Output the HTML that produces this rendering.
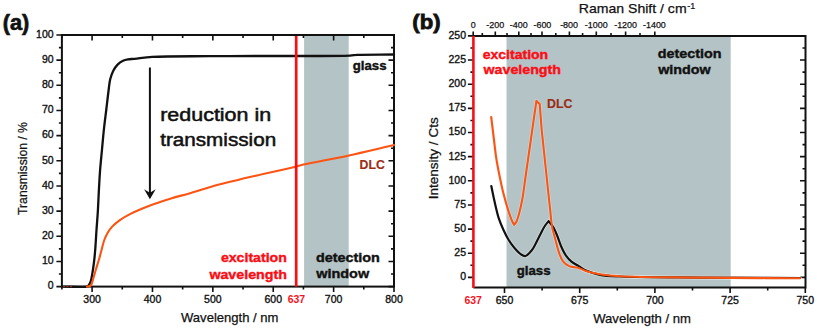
<!DOCTYPE html>
<html><head><meta charset="utf-8"><style>
html,body{margin:0;padding:0;background:#fff;}
svg{display:block;}
</style></head><body>
<svg width="817" height="328" viewBox="0 0 817 328">
<rect x="304.1" y="35" width="44.6" height="251.6" fill="#b4c3c5"/>
<path d="M61.9 286.6v3 M61.9 35v3 M92.09 286.6v5.5 M92.09 35v5.5 M122.28 286.6v3 M122.28 35v3 M152.47 286.6v5.5 M152.47 35v5.5 M182.66 286.6v3 M182.66 35v3 M212.85 286.6v5.5 M212.85 35v5.5 M243.05 286.6v3 M243.05 35v3 M273.24 286.6v5.5 M273.24 35v5.5 M303.43 286.6v3 M303.43 35v3 M333.62 286.6v5.5 M333.62 35v5.5 M363.81 286.6v3 M363.81 35v3 M394 286.6v5.5 M394 35v5.5 M61.9 286.6h-5.5 M394 286.6h-5.5 M61.9 274.02h-3 M394 274.02h-3 M61.9 261.44h-5.5 M394 261.44h-5.5 M61.9 248.86h-3 M394 248.86h-3 M61.9 236.28h-5.5 M394 236.28h-5.5 M61.9 223.7h-3 M394 223.7h-3 M61.9 211.12h-5.5 M394 211.12h-5.5 M61.9 198.54h-3 M394 198.54h-3 M61.9 185.96h-5.5 M394 185.96h-5.5 M61.9 173.38h-3 M394 173.38h-3 M61.9 160.8h-5.5 M394 160.8h-5.5 M61.9 148.22h-3 M394 148.22h-3 M61.9 135.64h-5.5 M394 135.64h-5.5 M61.9 123.06h-3 M394 123.06h-3 M61.9 110.48h-5.5 M394 110.48h-5.5 M61.9 97.9h-3 M394 97.9h-3 M61.9 85.32h-5.5 M394 85.32h-5.5 M61.9 72.74h-3 M394 72.74h-3 M61.9 60.16h-5.5 M394 60.16h-5.5 M61.9 47.58h-3 M394 47.58h-3 M61.9 35h-5.5 M394 35h-5.5" stroke="#111" stroke-width="1.6" fill="none"/>
<rect x="61.9" y="35" width="332.1" height="251.6" stroke="#111" stroke-width="2" fill="none"/>
<path d="M62 286.6 C70.27 286.6 83.56 287.32 86.8 286.6 C87.64 286.41 87.81 286.36 88.3 285.9 C89.17 285.07 90.16 282.96 90.8 281.2 C91.53 279.19 91.74 277 92.2 274.4 C92.81 270.93 93.5 266.27 94 262.2 C94.5 258.14 94.83 254.57 95.2 250 C95.68 244.16 96.05 236.49 96.5 230 C96.92 223.84 97.41 218.3 97.8 212 C98.23 205.04 98.51 197.16 98.9 190 C99.28 183.17 99.59 176.7 100.1 170 C100.62 163.2 101.36 156.29 102 149.5 C102.63 142.79 103.18 136.16 103.9 129.5 C104.62 122.83 105.5 116.17 106.3 109.5 C107.1 102.83 107.96 95.05 108.7 89.5 C109.23 85.53 109.39 82.52 110.2 79.3 C110.96 76.27 111.98 73.24 113.3 70.7 C114.5 68.4 115.92 66.3 117.6 64.6 C119.18 63 121.16 61.59 123 60.7 C124.61 59.92 126.12 59.62 127.9 59.3 C129.94 58.94 131.84 59.05 134.6 58.8 C139.1 58.39 144.7 57.35 152.3 56.9 C165.93 56.09 191.11 56.35 209.6 56.2 C226.94 56.06 240.78 56.08 260 56 C285.68 55.89 336.92 56.28 350 55.6 C353.66 55.41 353.74 55.08 357 54.9 C364.47 54.49 381.67 54.63 394 54.5" stroke="#111" stroke-width="2.3" fill="none" stroke-linejoin="round" stroke-linecap="round"/>
<path d="M63 286.6H73" stroke="#b03a22" stroke-width="1.2" stroke-dasharray="2 1.5" fill="none" opacity="0.8"/>
<path d="M87 286.6 C87.5 286.5 87.95 286.47 88.5 286.3 C89.24 286.07 90.3 285.97 91 285.2 C92.17 283.92 92.61 280.51 93.4 278 C94.25 275.29 95.02 272.42 95.9 269.5 C96.84 266.37 97.94 263.13 98.9 259.8 C99.91 256.31 100.86 252.43 101.8 249 C102.66 245.86 103.24 242.85 104.3 240 C105.32 237.26 106.6 234.52 108 232.2 C109.26 230.11 110.49 228.43 112.2 226.6 C114.21 224.45 116.71 222.29 119.5 220.3 C122.7 218.02 126.3 216.02 130.5 213.9 C135.76 211.25 142.35 208.48 148.8 206 C155.79 203.32 163.93 200.68 171 198.5 C177.37 196.54 182.93 195.26 189.3 193.4 C196.31 191.36 202.86 189.04 211.3 186.7 C222.56 183.58 237.39 180.04 251 176.8 C265.32 173.4 286.3 168.98 295.2 166.8 C299.07 165.85 299.62 165.5 303.5 164.6 C312.42 162.53 332.98 158.91 347.9 155.7 C363.15 152.42 378.63 148.63 394 145.1" stroke="#fc5412" stroke-width="2.1" fill="none" stroke-linejoin="round" stroke-linecap="round"/>
<line x1="296.2" y1="36" x2="296.2" y2="286.6" stroke="#fb0d16" stroke-width="2.7"/>
<line x1="149.9" y1="67.5" x2="149.9" y2="193" stroke="#111" stroke-width="2"/>
<path d="M144.1 189.2 L149.9 192.8 L155.7 189.2 L149.9 199.2 Z" fill="#111"/>
<g font-family='"Liberation Sans", sans-serif' font-size="10.5" fill="#111" stroke="#111" stroke-width="0.35"><text x="53.6" y="289.4" text-anchor="end">0</text><text x="53.6" y="264.24" text-anchor="end">10</text><text x="53.6" y="239.08" text-anchor="end">20</text><text x="53.6" y="213.92" text-anchor="end">30</text><text x="53.6" y="188.76" text-anchor="end">40</text><text x="53.6" y="163.6" text-anchor="end">50</text><text x="53.6" y="138.44" text-anchor="end">60</text><text x="53.6" y="113.28" text-anchor="end">70</text><text x="53.6" y="88.12" text-anchor="end">80</text><text x="53.6" y="62.96" text-anchor="end">90</text><text x="53.6" y="37.8" text-anchor="end">100</text><text x="92.09" y="302.6" text-anchor="middle">300</text><text x="152.47" y="302.6" text-anchor="middle">400</text><text x="212.85" y="302.6" text-anchor="middle">500</text><text x="273.24" y="302.6" text-anchor="middle">600</text><text x="333.62" y="302.6" text-anchor="middle">700</text><text x="394" y="302.6" text-anchor="middle">800</text></g>
<text x="296.4" y="302.6" text-anchor="middle" font-family='"Liberation Sans",sans-serif' font-weight="bold" font-size="10.5" fill="#f5141e">637</text>
<text x="181" y="321.6" font-family='"Liberation Sans", sans-serif' font-size="13" fill="#111" stroke="#111" stroke-width="0.25" textLength="97.5" lengthAdjust="spacingAndGlyphs">Wavelength / nm</text>
<text transform="translate(26.9 214.9) rotate(-90)" font-family='"Liberation Sans", sans-serif' font-size="13.6" fill="#111" stroke="#111" stroke-width="0.25" textLength="92.8" lengthAdjust="spacingAndGlyphs">Transmission / %</text>
<text x="160.2" y="120.7" font-family='"Liberation Sans", sans-serif' font-size="17.6" fill="#111" stroke="#111" stroke-width="0.5" textLength="111" lengthAdjust="spacingAndGlyphs">reduction in</text>
<text x="160.2" y="146.3" font-family='"Liberation Sans", sans-serif' font-size="17.6" fill="#111" stroke="#111" stroke-width="0.5" textLength="116" lengthAdjust="spacingAndGlyphs">transmission</text>
<text x="220.9" y="262.2" font-family='"Liberation Sans", sans-serif' font-weight="bold" font-size="13.1" fill="#fb0d16" stroke="#fb0d16" stroke-width="0.4" textLength="66" lengthAdjust="spacingAndGlyphs">excitation</text>
<text x="209.4" y="278.6" font-family='"Liberation Sans", sans-serif' font-weight="bold" font-size="13.1" fill="#fb0d16" stroke="#fb0d16" stroke-width="0.4" textLength="77.5" lengthAdjust="spacingAndGlyphs">wavelength</text>
<text x="315.9" y="262.1" font-family='"Liberation Sans", sans-serif' font-weight="bold" font-size="13.1" fill="#111" stroke="#111" stroke-width="0.4" textLength="64" lengthAdjust="spacingAndGlyphs">detection</text>
<text x="316.2" y="278.1" font-family='"Liberation Sans", sans-serif' font-weight="bold" font-size="13.1" fill="#111" stroke="#111" stroke-width="0.4" textLength="53" lengthAdjust="spacingAndGlyphs">window</text>
<text x="352.7" y="69.7" font-family='"Liberation Sans", sans-serif' font-weight="bold" font-size="12.3" fill="#111" stroke="#111" stroke-width="0.4" textLength="33.8" lengthAdjust="spacingAndGlyphs">glass</text>
<text x="359.6" y="169.1" font-family='"Liberation Sans", sans-serif' font-weight="bold" font-size="12.6" fill="#9a2c16" stroke="#9a2c16" stroke-width="0.15" textLength="25.2" lengthAdjust="spacingAndGlyphs">DLC</text>
<text x="2.8" y="29.5" font-family='"Liberation Sans", sans-serif' font-weight="bold" font-size="21.5" fill="#111" stroke="#111" stroke-width="0.7" textLength="26.5" lengthAdjust="spacingAndGlyphs">(a)</text>
<rect x="506.5" y="35.9" width="224.2" height="251.5" fill="#b4c3c5"/>
<path d="M504.5 287.4v5.5 M542.1 287.4v3 M579.7 287.4v5.5 M617.3 287.4v3 M654.9 287.4v5.5 M692.5 287.4v3 M730.1 287.4v5.5 M767.7 287.4v3 M805.3 287.4v5.5 M473.4 277.4h-5.5 M805.5 277.4h-5.5 M473.4 265.32h-3 M805.5 265.32h-3 M473.4 253.25h-5.5 M805.5 253.25h-5.5 M473.4 241.17h-3 M805.5 241.17h-3 M473.4 229.1h-5.5 M805.5 229.1h-5.5 M473.4 217.02h-3 M805.5 217.02h-3 M473.4 204.95h-5.5 M805.5 204.95h-5.5 M473.4 192.88h-3 M805.5 192.88h-3 M473.4 180.8h-5.5 M805.5 180.8h-5.5 M473.4 168.72h-3 M805.5 168.72h-3 M473.4 156.65h-5.5 M805.5 156.65h-5.5 M473.4 144.58h-3 M805.5 144.58h-3 M473.4 132.5h-5.5 M805.5 132.5h-5.5 M473.4 120.43h-3 M805.5 120.43h-3 M473.4 108.35h-5.5 M805.5 108.35h-5.5 M473.4 96.28h-3 M805.5 96.28h-3 M473.4 84.2h-5.5 M805.5 84.2h-5.5 M473.4 72.12h-3 M805.5 72.12h-3 M473.4 60.05h-5.5 M805.5 60.05h-5.5 M473.4 47.97h-3 M805.5 47.97h-3 M473.4 35.9h-5.5 M805.5 35.9h-5.5 M473.2 35.9v-4.5 M495.3 35.9v-4.5 M518.8 35.9v-4.5 M542 35.9v-4.5 M569.4 35.9v-4.5 M596.3 35.9v-4.5 M625.6 35.9v-4.5 M654.8 35.9v-4.5 M482.3 35.9v-3 M507 35.9v-3 M531 35.9v-3 M555.8 35.9v-3 M582.6 35.9v-3 M611 35.9v-3 M640 35.9v-3" stroke="#111" stroke-width="1.6" fill="none"/>
<path d="M473.4 35.9H805.5V287.4H473.4" stroke="#111" stroke-width="2" fill="none"/>
<path d="M491.3 186 C492.37 191.1 493.3 196.07 494.5 201.3 C495.78 206.85 497.14 213.3 498.8 218.4 C500.2 222.69 501.83 226.36 503.5 230 C505.04 233.36 506.55 236.49 508.4 239.5 C510.23 242.48 512.36 245.48 514.5 248 C516.44 250.29 518.53 252.75 520.6 254.1 C522.21 255.15 523.87 256.3 525.5 256 C527.54 255.63 529.97 252.46 531.6 250.5 C533.05 248.76 533.81 247.14 535 245 C536.57 242.19 538.33 238.23 540 235 C541.6 231.91 543.19 228.49 544.8 226 C546.06 224.06 547.33 222.73 548.6 221.1 M548.6 221.1 C550.23 223.23 552.07 225.09 553.5 227.5 C555.08 230.16 556.26 233.44 557.5 236.5 C558.76 239.6 559.61 242.87 561 246 C562.43 249.24 564.09 252.88 566 255.6 C567.65 257.96 569.4 259.87 571.5 261.6 C573.65 263.38 576.36 264.61 578.8 266.1 C581.23 267.58 583.19 269.19 586.1 270.5 C589.87 272.2 594.73 273.8 599.8 274.8 C605.82 275.98 611.03 276.06 620 276.5 C637.83 277.37 671.85 277.35 700 277.6 C731.48 277.88 766.67 277.87 800 278" stroke="#fff" stroke-width="3.6" opacity="0.5" fill="none" stroke-linejoin="round" stroke-linecap="round"/>
<path d="M491.2 117 C492.13 124.67 493.11 132.77 494 140 C494.8 146.45 495.35 152.21 496.3 158.3 C497.25 164.41 498.51 170.71 499.7 176.6 C500.82 182.12 501.87 187.29 503.2 192.6 C504.54 197.95 506.16 203.71 507.7 208.6 C509.03 212.83 510.53 217.35 511.8 220.3 C512.61 222.19 513.33 223.3 514.1 224.8 M514.1 224.8 C514.9 223.7 515.78 222.89 516.5 221.5 C517.5 219.56 518.18 216.94 519 214 C520.13 209.94 521.32 204.64 522.3 199.3 C523.46 192.99 524.3 185.43 525.3 178.5 M525.3 178.5 C529 152.63 532.7 126.77 536.4 100.9 M536.4 100.9 C537.5 101.97 538.6 103.03 539.7 104.1 M539.7 104.1 C540.37 112.73 541.03 121.37 541.7 130 M541.7 130 C544.17 153.33 546.63 176.67 549.1 200 M549.1 200 C549.53 204 549.94 207.82 550.4 212 C550.9 216.58 551.14 221.7 552 226.4 C552.85 231.03 554.32 235.58 555.5 240 C556.63 244.23 557.54 248.66 558.9 252.4 C560.09 255.67 561.14 258.96 563 261.3 C564.67 263.4 566.76 265 569.2 266.1 C571.93 267.33 576 267 578.8 267.9 C581.15 268.66 582.82 270.01 585 270.8 C587.28 271.62 589.76 272.14 592.2 272.7 C594.69 273.27 596.65 273.73 599.8 274.2 C604.91 274.97 611.02 275.76 620 276.3 C637.82 277.37 671.85 277.27 700 277.6 C731.47 277.97 766.67 278.07 800 278.3" stroke="#e8f4f4" stroke-width="3.4" opacity="0.5" fill="none" stroke-linejoin="round" stroke-linecap="round"/>
<path d="M491.3 186 C492.37 191.1 493.3 196.07 494.5 201.3 C495.78 206.85 497.14 213.3 498.8 218.4 C500.2 222.69 501.83 226.36 503.5 230 C505.04 233.36 506.55 236.49 508.4 239.5 C510.23 242.48 512.36 245.48 514.5 248 C516.44 250.29 518.53 252.75 520.6 254.1 C522.21 255.15 523.87 256.3 525.5 256 C527.54 255.63 529.97 252.46 531.6 250.5 C533.05 248.76 533.81 247.14 535 245 C536.57 242.19 538.33 238.23 540 235 C541.6 231.91 543.19 228.49 544.8 226 C546.06 224.06 547.33 222.73 548.6 221.1 M548.6 221.1 C550.23 223.23 552.07 225.09 553.5 227.5 C555.08 230.16 556.26 233.44 557.5 236.5 C558.76 239.6 559.61 242.87 561 246 C562.43 249.24 564.09 252.88 566 255.6 C567.65 257.96 569.4 259.87 571.5 261.6 C573.65 263.38 576.36 264.61 578.8 266.1 C581.23 267.58 583.19 269.19 586.1 270.5 C589.87 272.2 594.73 273.8 599.8 274.8 C605.82 275.98 611.03 276.06 620 276.5 C637.83 277.37 671.85 277.35 700 277.6 C731.48 277.88 766.67 277.87 800 278" stroke="#111" stroke-width="2.2" fill="none" stroke-linejoin="round" stroke-linecap="round"/>
<path d="M491.2 117 C492.13 124.67 493.11 132.77 494 140 C494.8 146.45 495.35 152.21 496.3 158.3 C497.25 164.41 498.51 170.71 499.7 176.6 C500.82 182.12 501.87 187.29 503.2 192.6 C504.54 197.95 506.16 203.71 507.7 208.6 C509.03 212.83 510.53 217.35 511.8 220.3 C512.61 222.19 513.33 223.3 514.1 224.8 M514.1 224.8 C514.9 223.7 515.78 222.89 516.5 221.5 C517.5 219.56 518.18 216.94 519 214 C520.13 209.94 521.32 204.64 522.3 199.3 C523.46 192.99 524.3 185.43 525.3 178.5 M525.3 178.5 C529 152.63 532.7 126.77 536.4 100.9 M536.4 100.9 C537.5 101.97 538.6 103.03 539.7 104.1 M539.7 104.1 C540.37 112.73 541.03 121.37 541.7 130 M541.7 130 C544.17 153.33 546.63 176.67 549.1 200 M549.1 200 C549.53 204 549.94 207.82 550.4 212 C550.9 216.58 551.14 221.7 552 226.4 C552.85 231.03 554.32 235.58 555.5 240 C556.63 244.23 557.54 248.66 558.9 252.4 C560.09 255.67 561.14 258.96 563 261.3 C564.67 263.4 566.76 265 569.2 266.1 C571.93 267.33 576 267 578.8 267.9 C581.15 268.66 582.82 270.01 585 270.8 C587.28 271.62 589.76 272.14 592.2 272.7 C594.69 273.27 596.65 273.73 599.8 274.2 C604.91 274.97 611.02 275.76 620 276.3 C637.82 277.37 671.85 277.27 700 277.6 C731.47 277.97 766.67 278.07 800 278.3" stroke="#fc5412" stroke-width="2.1" fill="none" stroke-linejoin="round" stroke-linecap="round"/>
<line x1="473.4" y1="35.9" x2="473.4" y2="287.9" stroke="#fb0d16" stroke-width="2.6"/>
<g font-family='"Liberation Sans", sans-serif' font-size="10.5" fill="#111" stroke="#111" stroke-width="0.35"><text x="466" y="280.3" text-anchor="end">0</text><text x="466" y="256.15" text-anchor="end">25</text><text x="466" y="232" text-anchor="end">50</text><text x="466" y="207.85" text-anchor="end">75</text><text x="466" y="183.7" text-anchor="end">100</text><text x="466" y="159.55" text-anchor="end">125</text><text x="466" y="135.4" text-anchor="end">150</text><text x="466" y="111.25" text-anchor="end">175</text><text x="466" y="87.1" text-anchor="end">200</text><text x="466" y="62.95" text-anchor="end">225</text><text x="466" y="38.8" text-anchor="end">250</text><text x="504.5" y="303.8" text-anchor="middle">650</text><text x="579.7" y="303.8" text-anchor="middle">675</text><text x="654.9" y="303.8" text-anchor="middle">700</text><text x="730.1" y="303.8" text-anchor="middle">725</text><text x="805.3" y="303.8" text-anchor="middle">750</text></g>
<text x="473.2" y="303.8" text-anchor="middle" font-family='"Liberation Sans", sans-serif' font-weight="bold" font-size="10.5" fill="#f5141e">637</text>
<g font-family='"Liberation Sans", sans-serif' font-size="9.6" fill="#111" stroke="#111" stroke-width="0.25"><text x="470.71" y="27.9" textLength="4.97" lengthAdjust="spacingAndGlyphs">0</text><text x="486.35" y="27.9" textLength="17.9" lengthAdjust="spacingAndGlyphs">-200</text><text x="509.85" y="27.9" textLength="17.9" lengthAdjust="spacingAndGlyphs">-400</text><text x="533.45" y="27.9" textLength="17.9" lengthAdjust="spacingAndGlyphs">-600</text><text x="560.15" y="27.9" textLength="17.9" lengthAdjust="spacingAndGlyphs">-800</text><text x="584.86" y="27.9" textLength="22.88" lengthAdjust="spacingAndGlyphs">-1000</text><text x="614.16" y="27.9" textLength="22.88" lengthAdjust="spacingAndGlyphs">-1200</text><text x="642.96" y="27.9" textLength="22.88" lengthAdjust="spacingAndGlyphs">-1400</text></g>
<text x="578.8" y="13.4" font-family='"Liberation Sans", sans-serif' font-size="13" fill="#111" stroke="#111" stroke-width="0.25" textLength="107.8" lengthAdjust="spacingAndGlyphs">Raman Shift / cm</text>
<text x="687.2" y="8.9" font-family='"Liberation Sans", sans-serif' font-size="9" fill="#111" stroke="#111" stroke-width="0.2">-1</text>
<text x="593.2" y="322.7" font-family='"Liberation Sans", sans-serif' font-size="13" fill="#111" stroke="#111" stroke-width="0.25" textLength="97.8" lengthAdjust="spacingAndGlyphs">Wavelength / nm</text>
<text transform="translate(438.3 199.3) rotate(-90)" font-family='"Liberation Sans", sans-serif' font-size="13" fill="#111" stroke="#111" stroke-width="0.25" textLength="82" lengthAdjust="spacingAndGlyphs">Intensity / Cts</text>
<text x="482.7" y="58.9" font-family='"Liberation Sans", sans-serif' font-weight="bold" font-size="13.1" fill="#fb0d16" stroke="#fb0d16" stroke-width="0.4" textLength="65.5" lengthAdjust="spacingAndGlyphs">excitation</text>
<text x="483.5" y="74" font-family='"Liberation Sans", sans-serif' font-weight="bold" font-size="13.1" fill="#fb0d16" stroke="#fb0d16" stroke-width="0.4" textLength="77.5" lengthAdjust="spacingAndGlyphs">wavelength</text>
<text x="657.8" y="57.9" font-family='"Liberation Sans", sans-serif' font-weight="bold" font-size="13.1" fill="#111" stroke="#111" stroke-width="0.4" textLength="63.8" lengthAdjust="spacingAndGlyphs">detection</text>
<text x="658.2" y="73.9" font-family='"Liberation Sans", sans-serif' font-weight="bold" font-size="13.1" fill="#111" stroke="#111" stroke-width="0.4" textLength="52.5" lengthAdjust="spacingAndGlyphs">window</text>
<text x="516.7" y="275.2" font-family='"Liberation Sans", sans-serif' font-weight="bold" font-size="12.3" fill="#111" stroke="#111" stroke-width="0.4" textLength="33.8" lengthAdjust="spacingAndGlyphs">glass</text>
<text x="547" y="108.1" font-family='"Liberation Sans", sans-serif' font-weight="bold" font-size="12.6" fill="#9a2c16" stroke="#9a2c16" stroke-width="0.15" textLength="25.4" lengthAdjust="spacingAndGlyphs">DLC</text>
<text x="412.3" y="29" font-family='"Liberation Sans", sans-serif' font-weight="bold" font-size="21" fill="#111" stroke="#111" stroke-width="0.8" textLength="28.3" lengthAdjust="spacingAndGlyphs">(b)</text>
</svg>
</body></html>
